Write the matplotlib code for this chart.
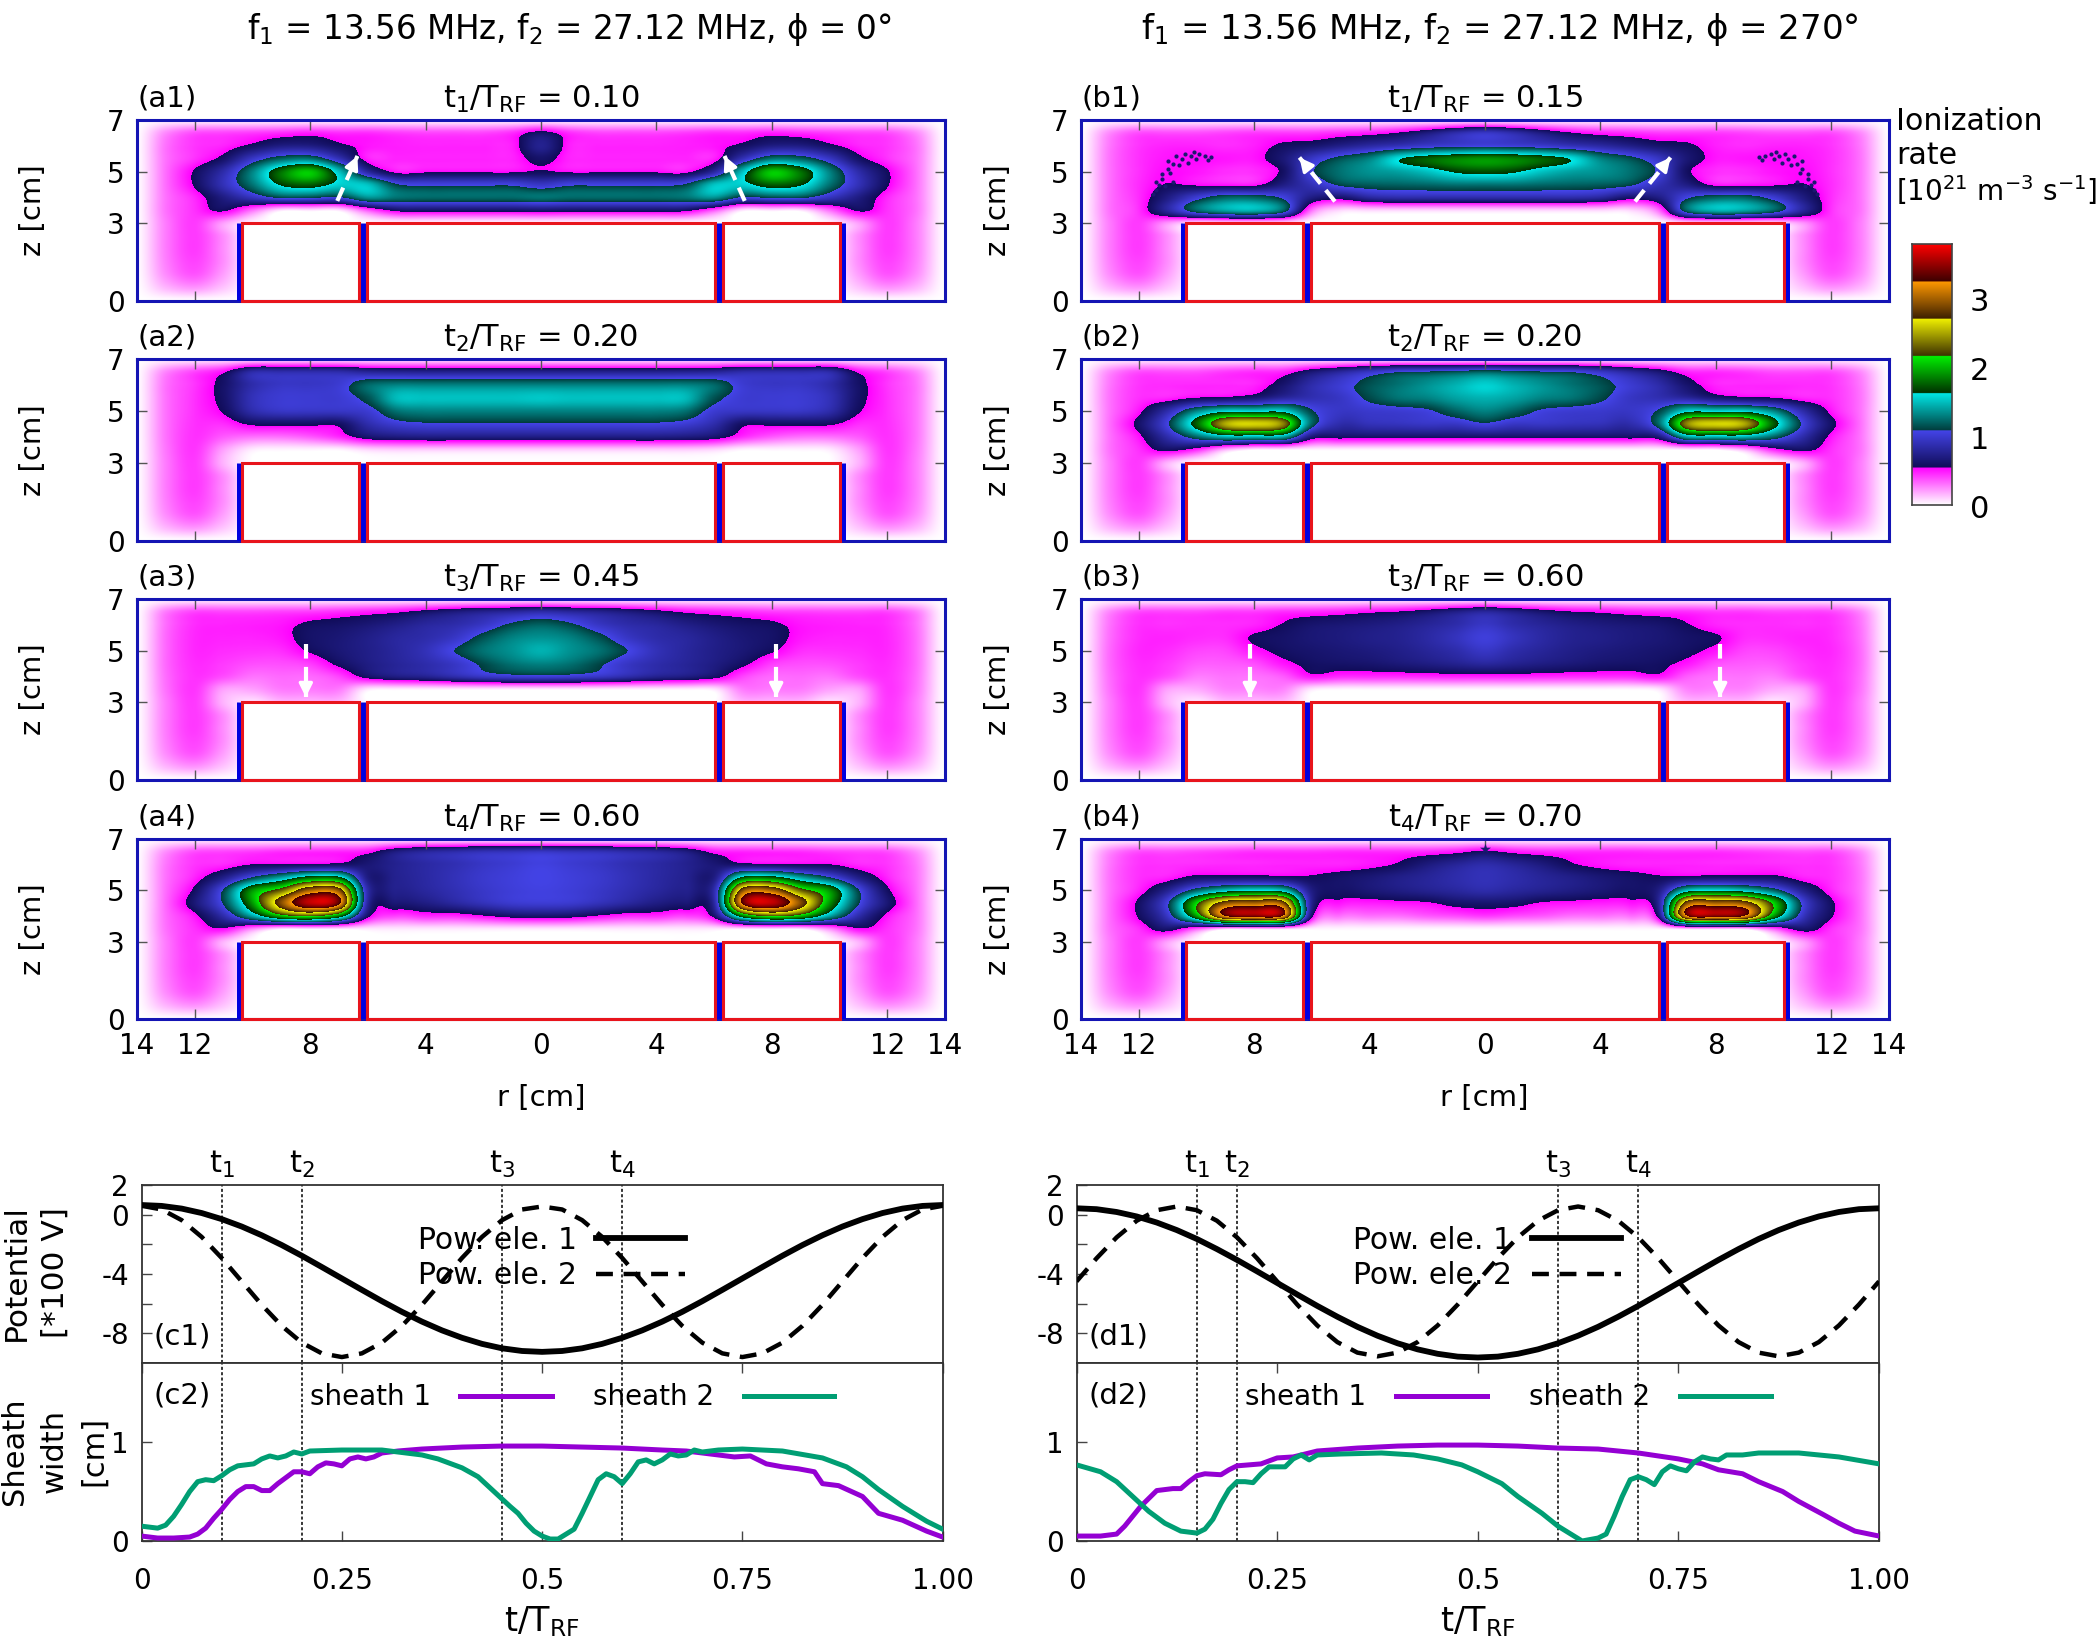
import numpy as np
import matplotlib
matplotlib.use('Agg')
import matplotlib.pyplot as plt
from matplotlib.colors import LinearSegmentedColormap
from matplotlib.patches import Rectangle

W, H = 2100, 1637
plt.rcParams['font.family'] = ['DejaVu Sans']
plt.rcParams['mathtext.default'] = 'regular'

# ionization rate on half of the reactor, r = 0..14 cm, z = 7..3 cm in 0.5 cm rows
a1_rate = [
    [.02, .02, .02, .02, .02, .02, .02, .02, .02, .02, .02, .02, .02, .02, .0],
    [.60, .45, .40, .40, .40, .42, .45, .45, .48, .45, .42, .40, .38, .25, .0],
    [.75, .48, .47, .47, .47, .48, .50, .58, .70, .70, .58, .47, .43, .30, .0],
    [.60, .47, .47, .47, .47, .47, .48, .90, 1.25, 1.20, .95, .60, .44, .30, .0],
    [.56, .52, .52, .52, .52, .50, .80, 1.50, 2.05, 1.80, 1.30, .85, .56, .31, .0],
    [.95, 1.05, 1.05, 1.05, 1.05, 1.10, 1.50, 1.55, 1.75, 1.65, 1.25, .90, .56, .31, .0],
    [1.25, 1.22, 1.22, 1.22, 1.22, 1.25, 1.35, 1.05, 1.12, 1.12, .92, .70, .46, .30, .0],
    [.62, .60, .60, .60, .60, .58, .35, .05, .05, .05, .30, .56, .44, .30, .0],
    [.0, .0, .0, .0, .0, .0, .0, .0, .0, .0, .02, .20, .42, .28, .0],
]
a2_rate = [
    [.05, .05, .05, .05, .05, .05, .05, .05, .05, .05, .05, .05, .04, .03, .0],
    [.75, .75, .75, .75, .75, .76, .78, .85, .86, .86, .84, .52, .40, .26, .0],
    [1.30, 1.30, 1.30, 1.30, 1.30, 1.30, 1.22, 1.00, .95, .95, .85, .60, .43, .30, .0],
    [1.52, 1.50, 1.50, 1.50, 1.50, 1.48, 1.15, 1.00, 1.00, 1.00, .90, .60, .44, .30, .0],
    [1.30, 1.30, 1.30, 1.30, 1.30, 1.25, 1.00, .95, .95, .95, .85, .56, .44, .30, .0],
    [1.05, 1.05, 1.05, 1.05, 1.05, 1.00, .85, .58, .58, .58, .57, .45, .44, .30, .0],
    [.70, .70, .70, .70, .70, .68, .62, .45, .35, .30, .30, .35, .44, .30, .0],
    [.10, .10, .10, .10, .10, .10, .08, .02, .02, .02, .04, .20, .43, .29, .0],
    [.0, .0, .0, .0, .0, .0, .0, .0, .0, .0, .0, .16, .42, .28, .0],
]
a3_rate = [
    [.03, .03, .03, .03, .03, .03, .03, .03, .03, .03, .03, .03, .03, .02, .0],
    [.85, .80, .75, .68, .60, .52, .48, .45, .42, .41, .40, .40, .40, .28, .0],
    [1.20, 1.12, .95, .85, .80, .72, .65, .60, .57, .50, .48, .47, .45, .31, .0],
    [1.35, 1.30, 1.15, .95, .85, .80, .72, .65, .60, .50, .47, .47, .46, .32, .0],
    [1.45, 1.35, 1.25, 1.08, .90, .80, .72, .65, .56, .45, .44, .45, .46, .32, .0],
    [1.30, 1.25, 1.12, .95, .85, .78, .70, .58, .42, .38, .38, .42, .45, .32, .0],
    [1.02, 1.00, .95, .85, .75, .70, .60, .40, .32, .32, .30, .38, .44, .31, .0],
    [.03, .03, .03, .03, .03, .03, .05, .28, .28, .28, .20, .20, .43, .30, .0],
    [.0, .0, .0, .0, .0, .0, .0, .15, .15, .15, .06, .16, .42, .28, .0],
]
a4_rate = [
    [.03, .03, .03, .03, .03, .03, .03, .03, .03, .03, .03, .03, .03, .02, .0],
    [.95, .92, .90, .85, .80, .70, .50, .47, .46, .45, .42, .40, .38, .24, .0],
    [1.05, 1.00, .95, .88, .82, .75, .65, .60, .58, .56, .55, .46, .43, .29, .0],
    [1.07, 1.03, .98, .90, .82, .75, .70, 1.70, 1.75, 1.40, 1.10, .72, .47, .30, .0],
    [1.05, 1.02, .96, .88, .80, .74, .85, 2.90, 3.00, 2.30, 1.90, 1.10, .58, .31, .0],
    [1.00, .98, .90, .80, .70, .65, .80, 3.30, 3.60, 2.90, 1.90, 1.10, .65, .32, .0],
    [.62, .60, .52, .45, .45, .40, .60, 1.80, 2.20, 2.00, 1.40, .85, .50, .31, .0],
    [.05, .05, .05, .05, .05, .05, .05, .05, .05, .05, .25, .52, .44, .30, .0],
    [.0, .0, .0, .0, .0, .0, .0, .0, .0, .0, .0, .16, .42, .28, .0],
]
b1_rate = [
    [.03, .03, .03, .03, .03, .03, .03, .03, .03, .03, .03, .03, .03, .02, .0],
    [.95, .85, .68, .55, .48, .45, .42, .42, .42, .40, .38, .38, .38, .25, .0],
    [1.05, 1.02, .98, .90, .82, .72, .62, .57, .48, .45, .47, .47, .43, .29, .0],
    [1.90, 1.85, 1.75, 1.60, 1.30, 1.15, .95, .65, .50, .50, .52, .50, .44, .30, .0],
    [1.70, 1.65, 1.50, 1.40, 1.35, 1.25, 1.05, .58, .45, .45, .50, .52, .44, .30, .0],
    [1.25, 1.25, 1.22, 1.20, 1.18, 1.12, .90, .70, .50, .50, .52, .55, .45, .30, .0],
    [.85, .85, .85, .85, .80, .62, .70, 1.05, 1.20, 1.20, 1.00, .70, .45, .30, .0],
    [.08, .08, .08, .08, .08, .08, .30, 1.20, 1.45, 1.40, 1.20, .80, .44, .30, .0],
    [.0, .0, .0, .0, .0, .0, .0, .05, .05, .05, .05, .22, .42, .28, .0],
]
b2_rate = [
    [.05, .05, .05, .05, .05, .05, .05, .05, .05, .05, .05, .05, .04, .03, .0],
    [1.20, 1.15, 1.10, 1.07, .95, .80, .65, .47, .45, .42, .38, .38, .38, .25, .0],
    [1.55, 1.45, 1.35, 1.25, 1.15, 1.00, .85, .62, .47, .46, .46, .45, .43, .29, .0],
    [1.45, 1.40, 1.30, 1.25, 1.12, .95, .88, .80, .65, .58, .55, .47, .44, .30, .0],
    [1.30, 1.20, 1.05, 1.00, .98, .95, 1.10, 1.55, 1.55, 1.55, 1.30, .85, .50, .30, .0],
    [1.05, .95, .95, .92, .90, .85, 1.20, 2.40, 2.62, 2.50, 1.75, 1.05, .60, .31, .0],
    [.60, .60, .60, .60, .60, .60, .65, 1.40, 1.45, 1.45, 1.20, .85, .50, .30, .0],
    [.02, .02, .02, .02, .02, .02, .02, .02, .02, .15, .45, .58, .44, .30, .0],
    [.0, .0, .0, .0, .0, .0, .0, .0, .0, .0, .0, .16, .42, .28, .0],
]
b3_rate = [
    [.03, .03, .03, .03, .03, .03, .03, .03, .03, .03, .03, .03, .03, .02, .0],
    [.80, .72, .62, .55, .52, .48, .46, .45, .42, .42, .40, .40, .39, .26, .0],
    [.95, .85, .78, .72, .68, .65, .62, .55, .47, .45, .45, .44, .44, .30, .0],
    [1.03, .92, .82, .75, .72, .68, .65, .60, .56, .45, .45, .47, .45, .31, .0],
    [.95, .85, .78, .72, .68, .65, .62, .58, .50, .40, .40, .45, .46, .32, .0],
    [.80, .75, .70, .66, .62, .60, .58, .50, .38, .35, .35, .42, .45, .32, .0],
    [.47, .47, .46, .45, .45, .45, .50, .35, .30, .30, .28, .38, .44, .31, .0],
    [.02, .02, .02, .02, .02, .02, .05, .26, .26, .26, .18, .20, .43, .30, .0],
    [.0, .0, .0, .0, .0, .0, .0, .14, .14, .14, .05, .16, .42, .28, .0],
]
b4_rate = [
    [.03, .03, .03, .03, .03, .03, .03, .03, .03, .03, .03, .03, .03, .02, .0],
    [.58, .50, .46, .45, .45, .45, .44, .44, .44, .42, .40, .38, .38, .25, .0],
    [.85, .78, .68, .56, .50, .47, .47, .47, .46, .46, .45, .44, .43, .29, .0],
    [.90, .85, .78, .72, .65, .60, .56, .60, .62, .62, .60, .48, .44, .30, .0],
    [.85, .80, .75, .70, .65, .60, .70, 1.50, 1.60, 1.50, 1.20, .75, .47, .30, .0],
    [.62, .60, .52, .50, .48, .50, .75, 2.90, 3.00, 2.90, 2.10, 1.05, .58, .31, .0],
    [.42, .38, .35, .30, .30, .30, .60, 3.20, 3.40, 3.20, 1.90, .95, .56, .31, .0],
    [.02, .02, .02, .02, .02, .02, .03, .10, .10, .10, .35, .62, .44, .30, .0],
    [.0, .0, .0, .0, .0, .0, .0, .0, .0, .0, .0, .20, .42, .28, .0],
]
# same outer channel below the electrodes in every panel, z = 2.5..0 cm
lower_rate = [
    [.0, .0, .0, .0, .0, .0, .0, .0, .0, .0, .0, .24, .42, .28, .0],
    [.0, .0, .0, .0, .0, .0, .0, .0, .0, .0, .0, .24, .42, .28, .0],
    [.0, .0, .0, .0, .0, .0, .0, .0, .0, .0, .0, .24, .40, .27, .0],
    [.0, .0, .0, .0, .0, .0, .0, .0, .0, .0, .0, .20, .36, .24, .0],
    [.0, .0, .0, .0, .0, .0, .0, .0, .0, .0, .0, .12, .22, .15, .0],
    [.0, .0, .0, .0, .0, .0, .0, .0, .0, .0, .0, .0, .0, .0, .0],
]

# isolated low-count specks at the lobe shoulder in (b1), one side
b1_speck_r = [10.2, 10.5, 10.8, 11.0, 11.2, 11.4, 10.4, 10.7, 11.0, 10.1, 9.9, 9.7, 9.6, 10.0, 10.3, 10.6, 10.9, 11.2, 11.3, 11.1, 10.8, 11.4, 11.5, 9.5]
b1_speck_z = [5.6, 5.5, 5.3, 5.1, 4.9, 4.6, 5.7, 5.6, 5.4, 5.75, 5.7, 5.6, 5.45, 5.5, 5.35, 5.25, 4.95, 4.7, 4.5, 4.45, 4.6, 4.3, 4.15, 5.55]

a_labels = ['(a1)', '(a2)', '(a3)', '(a4)']
b_labels = ['(b1)', '(b2)', '(b3)', '(b4)']
a_times = ['0.10', '0.20', '0.45', '0.60']
b_times = ['0.15', '0.20', '0.60', '0.70']

# waveforms
t_wave = [i * 0.025 for i in range(41)]
c_pow1 = [.65, .59, .41, .11, -.30, -.80, -1.39, -2.05, -2.77, -3.53, -4.30, -5.07, -5.83, -6.55, -7.21, -7.80, -8.30, -8.71, -9.01, -9.19, -9.25,
          -9.19, -9.01, -8.71, -8.30, -7.80, -7.21, -6.55, -5.83, -5.07, -4.30, -3.53, -2.77, -2.05, -1.39, -.80, -.30, .11, .41, .59, .65]
c_pow2 = [.60, .35, -.37, -1.50, -2.92, -4.50, -6.08, -7.50, -8.63, -9.35, -9.60, -9.35, -8.63, -7.50, -6.08, -4.50, -2.92, -1.50, -.37, .35, .55,
          .35, -.37, -1.50, -2.92, -4.50, -6.08, -7.50, -8.63, -9.35, -9.60, -9.35, -8.63, -7.50, -6.08, -4.50, -2.92, -1.50, -.37, .35, .60]
d_pow1 = [.43, .37, .18, -.12, -.53, -1.04, -1.64, -2.32, -3.05, -3.82, -4.60, -5.38, -6.15, -6.88, -7.56, -8.16, -8.67, -9.08, -9.38, -9.57, -9.63,
          -9.57, -9.38, -9.08, -8.67, -8.16, -7.56, -6.88, -6.15, -5.38, -4.60, -3.82, -3.05, -2.32, -1.64, -1.04, -.53, -.12, .18, .37, .43]
d_pow2 = [-4.50, -2.94, -1.53, -.41, .30, .55, .30, -.41, -1.53, -2.94, -4.50, -6.06, -7.47, -8.59, -9.30, -9.55, -9.30, -8.59, -7.47, -6.06, -4.50,
          -2.94, -1.53, -.41, .30, .55, .30, -.41, -1.53, -2.94, -4.50, -6.06, -7.47, -8.59, -9.30, -9.55, -9.30, -8.59, -7.47, -6.06, -4.50]

# sheath widths
c_s1_t = [0, .02, .04, .06, .07, .08, .09, .10, .11, .12, .13, .14, .15, .16, .17, .18, .19, .20, .21, .22, .23, .24, .25, .26, .27, .28, .29, .30, .32, .35, .40, .45, .50, .55, .60, .65, .68, .70, .72, .74, .76, .78, .80, .82, .84, .85, .87, .90, .92, .95, .98, 1.0]
c_s1_w = [.05, .03, .03, .04, .07, .13, .23, .32, .42, .50, .55, .55, .51, .51, .58, .64, .70, .70, .68, .75, .79, .78, .76, .83, .85, .83, .85, .89, .91, .93, .95, .96, .96, .95, .94, .92, .91, .89, .87, .85, .86, .78, .75, .73, .70, .58, .56, .45, .28, .21, .10, .04]
c_s2_t = [0, .02, .03, .04, .05, .06, .07, .08, .09, .10, .11, .12, .13, .14, .15, .16, .17, .18, .19, .20, .21, .25, .30, .32, .35, .37, .40, .42, .44, .46, .47, .48, .49, .50, .51, .52, .53, .54, .55, .56, .57, .58, .59, .60, .61, .62, .63, .64, .65, .66, .67, .68, .69, .70, .72, .75, .80, .85, .88, .90, .92, .95, .98, 1.0]
c_s2_w = [.15, .13, .16, .25, .37, .50, .60, .62, .61, .66, .72, .76, .77, .78, .83, .86, .84, .86, .90, .88, .91, .92, .92, .90, .87, .83, .74, .65, .50, .35, .28, .18, .10, .05, .02, .02, .07, .12, .28, .45, .62, .68, .65, .58, .68, .80, .82, .78, .82, .88, .86, .87, .92, .90, .92, .93, .91, .84, .75, .65, .52, .35, .20, .12]
d_s1_t = [0, .03, .05, .06, .07, .08, .09, .10, .12, .13, .14, .15, .16, .18, .19, .20, .23, .25, .27, .30, .35, .40, .45, .50, .55, .60, .65, .70, .75, .78, .80, .83, .85, .88, .90, .93, .95, .97, 1.0]
d_s1_w = [.05, .05, .07, .15, .25, .35, .43, .51, .53, .53, .60, .66, .68, .67, .72, .76, .78, .84, .85, .91, .94, .96, .97, .97, .96, .94, .93, .89, .83, .78, .72, .68, .60, .50, .40, .27, .18, .10, .05]
d_s2_t = [0, .03, .05, .07, .09, .11, .13, .15, .16, .17, .18, .19, .20, .21, .22, .23, .24, .26, .27, .28, .29, .30, .33, .38, .42, .45, .48, .50, .53, .55, .58, .60, .62, .63, .65, .66, .67, .68, .69, .70, .71, .72, .73, .74, .75, .76, .77, .78, .79, .80, .81, .83, .85, .90, .95, 1.0]
d_s2_w = [.77, .70, .60, .45, .30, .18, .10, .08, .12, .22, .38, .52, .60, .60, .59, .68, .75, .75, .83, .87, .82, .87, .88, .89, .87, .83, .77, .70, .58, .45, .28, .15, .05, .0, .03, .07, .25, .45, .62, .65, .62, .57, .70, .76, .73, .71, .80, .85, .83, .82, .87, .87, .89, .89, .85, .78]

c_marks = [.10, .20, .45, .60]
d_marks = [.15, .20, .60, .70]

VMAX = 3.78
seg = [('#ffffff', '#ff00ff'), ('#100c58', '#4444e8'), ('#003c3c', '#00e8e8'), ('#003000', '#00f000'),
       ('#3c3000', '#f0f000'), ('#3c2000', '#ff9800'), ('#3c0000', '#ff0000')]
stops = []
for i, (lo, hi) in enumerate(seg):
    stops.append((i / 7, lo))
    stops.append(((i + 1) / 7, hi))
rate_cmap = LinearSegmentedColormap.from_list('rate', stops, N=2048)


def box(x0, y0, x1, y1):
    return plt.gcf().add_axes([x0 / W, 1 - y1 / H, (x1 - x0) / W, (y1 - y0) / H])


fig = plt.figure(figsize=(W / 100, H / 100), dpi=100)
FS = 20
BLUE = '#1414b4'


def rate_panel(pos, upper, label, idx, time_txt, bottom):
    ax = box(*pos)
    half = np.array(upper + lower_rate)
    full = np.hstack([half[:, :0:-1], half])
    # catrom passes through the grid values, the agg bicubic kernel would flatten the peaks
    ax.imshow(full, extent=[-14.5, 14.5, -0.25, 7.25], origin='upper', aspect='auto', cmap=rate_cmap,
              vmin=0, vmax=VMAX, interpolation='catrom', interpolation_stage='data', zorder=1)
    ax.set_xlim(-14, 14)
    ax.set_ylim(0, 7)
    ax.add_patch(Rectangle((-10.45, -0.1), 20.9, 3.1, fc='white', ec='none', zorder=2))
    # electrodes
    for side in (-1, 1):
        ax.plot([side * 10.47] * 2, [0, 3], color='#0000e0', lw=3.6, zorder=4, solid_capstyle='butt')
        ax.plot([side * 6.17] * 2, [0, 3], color='#0000e0', lw=3.6, zorder=4, solid_capstyle='butt')
        ax.add_patch(Rectangle((min(side * 6.32, side * 10.36), 0), 4.04, 3, fc='none', ec='#e8141c', lw=2.2, zorder=5, clip_on=False))
    ax.add_patch(Rectangle((-6.02, 0), 12.04, 3, fc='none', ec='#e8141c', lw=2.2, zorder=5, clip_on=False))
    for s in ax.spines.values():
        s.set_color(BLUE)
        s.set_linewidth(2.2)
    ax.set_xticks([-14, -12, -8, -4, 0, 4, 8, 12, 14])
    ax.set_yticks([0, 3, 5, 7])
    ax.set_yticklabels(['0', '3', '5', '7'], fontsize=FS)
    ax.tick_params(direction='in', length=7, width=1, color='#555555', top=True, right=True, pad=9)
    if bottom:
        ax.set_xticklabels(['14', '12', '8', '4', '0', '4', '8', '12', '14'], fontsize=FS)
    else:
        ax.set_xticklabels([])
    ax.text(-14, 7.3, label, fontsize=21, ha='left', va='bottom')
    ax.text(0, 7.2, '$t_%d/T_{RF}$ = %s' % (idx, time_txt), fontsize=22, ha='center', va='bottom')
    return ax


def dash_arrow(ax, r0, z0, r1, z1, head):
    ax.plot([r0, r1], [z0, z1], color='white', lw=3, ls=(0, (3.5, 2)), zorder=6)
    if head:
        ax.annotate('', xy=(r1, z1), xytext=(r0 + (r1 - r0) * .8, z0 + (z1 - z0) * .8), zorder=7,
                    arrowprops=dict(arrowstyle='-|>', color='white', lw=2.4, mutation_scale=20, shrinkA=0, shrinkB=0))


a_rows = [a1_rate, a2_rate, a3_rate, a4_rate]
b_rows = [b1_rate, b2_rate, b3_rate, b4_rate]
y_boxes = [(120, 301), (359, 541), (599, 780), (839, 1019)]
a_axes, b_axes = [], []
for i in range(4):
    a_axes.append(rate_panel((137, y_boxes[i][0], 945, y_boxes[i][1]), a_rows[i], a_labels[i], i + 1, a_times[i], i == 3))
    b_axes.append(rate_panel((1081, y_boxes[i][0], 1889, y_boxes[i][1]), b_rows[i], b_labels[i], i + 1, b_times[i], i == 3))
    for xl in (33, 998):
        fig.text(xl / W, 1 - (y_boxes[i][0] + y_boxes[i][1]) / 2 / H, 'z [cm]', fontsize=21, rotation=90, ha='center', va='center')

for side in (-1, 1):
    dash_arrow(a_axes[0], side * 7.06, 3.87, side * 6.36, 5.61, True)
    dash_arrow(b_axes[0], side * 5.2, 3.85, side * 6.43, 5.55, True)
    dash_arrow(a_axes[2], side * 8.15, 5.26, side * 8.15, 3.2, True)
    dash_arrow(b_axes[2], side * 8.15, 5.26, side * 8.15, 3.2, True)
    b_axes[0].scatter(side * np.array(b1_speck_r), b1_speck_z, s=9, color='#1a1870', linewidths=0, zorder=3)
b_axes[3].scatter([0], [6.62], s=70, marker='*', color='#1a1870', linewidths=0, zorder=3)

fig.text(541 / W, 1 - 1098 / H, 'r [cm]', fontsize=21, ha='center', va='center')
fig.text(1484 / W, 1 - 1098 / H, 'r [cm]', fontsize=21, ha='center', va='center')
fig.text(569 / W, 1 - 29 / H, r'$f_1$ = 13.56 MHz, $f_2$ = 27.12 MHz, $\phi$ = 0°', fontsize=23.5, ha='center', va='center')
fig.text(1500 / W, 1 - 29 / H, r'$f_1$ = 13.56 MHz, $f_2$ = 27.12 MHz, $\phi$ = 270°', fontsize=24.6, ha='center', va='center')

# colour scale
cax = box(1912, 244, 1952, 505)
cax.imshow(np.linspace(VMAX, 0, 1024).reshape(-1, 1), extent=[0, 1, 0, VMAX], aspect='auto', cmap=rate_cmap, vmin=0, vmax=VMAX)
cax.set_xticks([])
cax.set_yticks([])
for v in [0, 1, 2, 3]:
    cax.text(1.68, v - 0.07, str(v), fontsize=22, ha='center', va='center')
for s in cax.spines.values():
    s.set_color('#444444')
    s.set_linewidth(1.2)
fig.text(1896 / W, 1 - 122 / H, 'Ionization', fontsize=21.6, ha='left', va='center')
fig.text(1896 / W, 1 - 156 / H, 'rate', fontsize=21.6, ha='left', va='center')
fig.text(1896 / W, 1 - 190 / H, r'[$10^{21}$ m$^{-3}$ s$^{-1}$]', fontsize=FS, ha='left', va='center')


def wave_panels(x0, x1, pow1, pow2, s1t, s1w, s2t, s2w, marks, tag):
    ax1 = box(x0, 1185, x1, 1363)
    ax2 = box(x0, 1363, x1, 1541)
    ax1.plot(t_wave, pow1, color='black', lw=4.2, zorder=3)
    ax1.plot(t_wave, pow2, color='black', lw=3.2, ls=(0, (3.8, 2.4)), zorder=3)
    ax1.set_ylim(-10, 2)
    ax1.set_yticks([2, 0, -2, -4, -6, -8, -10])
    ax1.set_yticklabels(['2', '0', '', '-4', '', '-8', ''], fontsize=FS)
    ax1.set_xticks([])
    ax2.plot(s1t, s1w, color='#9400d3', lw=3.6, zorder=3)
    ax2.plot(s2t, s2w, color='#009e73', lw=3.6, zorder=3)
    ax2.set_ylim(0, 1.8)
    ax2.set_yticks([0, 1])
    ax2.set_yticklabels(['0', '1'], fontsize=FS)
    ax2.set_xticks([0, .25, .5, .75, 1])
    ax2.set_xticklabels(['0', '0.25', '0.5', '0.75', '1.00'], fontsize=FS)
    for ax in (ax1, ax2):
        ax.set_xlim(0, 1)
        ax.tick_params(direction='in', length=7, width=1, color='#444444', pad=9, top=(ax is ax2), right=False)
        for s in ax.spines.values():
            s.set_color('#333333')
            s.set_linewidth(1.3)
        for m in marks:
            ax.axvline(m, color='black', lw=1.1, ls=(0, (2, 1.5)), zorder=2)
    ax2.tick_params(axis='x', pad=19)
    for k, m in enumerate(marks):
        ax1.text(m, 2.35, '$t_%d$' % (k + 1), fontsize=22, ha='center', va='bottom')
    ax1.text(.345, -1.75, 'Pow. ele. 1', fontsize=21.5, ha='left', va='center', zorder=5)
    ax1.text(.345, -4.12, 'Pow. ele. 2', fontsize=21.5, ha='left', va='center', zorder=5)
    ax1.plot([.567, .679], [-1.6, -1.6], color='black', lw=4.2, zorder=3)
    ax1.plot([.567, .679], [-3.97, -3.97], color='black', lw=3.2, ls=(0, (3.8, 2.4)), zorder=3)
    ax1.text(.015, -8.2, '(%s1)' % tag, fontsize=21, ha='left', va='center')
    ax2.text(.015, 1.47, '(%s2)' % tag, fontsize=21, ha='left', va='center')
    ax2.text(.21, 1.46, 'sheath 1', fontsize=FS, ha='left', va='center')
    ax2.text(.564, 1.46, 'sheath 2', fontsize=FS, ha='left', va='center')
    ax2.plot([.398, .512], [1.47, 1.47], color='#9400d3', lw=3.6)
    ax2.plot([.752, .865], [1.47, 1.47], color='#009e73', lw=3.6)
    fig.text((x0 + x1) / 2 / W, 1 - 1622 / H, '$t/T_{RF}$', fontsize=24, ha='center', va='center')


wave_panels(141.6, 942.6, c_pow1, c_pow2, c_s1_t, c_s1_w, c_s2_t, c_s2_w, c_marks, 'c')
wave_panels(1076.5, 1879, d_pow1, d_pow2, d_s1_t, d_s1_w, d_s2_t, d_s2_w, d_marks, 'd')

fig.text(36 / W, 1 - 1273 / H, 'Potential\n[*100 V]', fontsize=22.5, rotation=90, ha='center', va='center', linespacing=1.45)
fig.text(54 / W, 1 - 1451 / H, 'Sheath\nwidth\n[cm]', fontsize=22, rotation=90, ha='center', va='center', linespacing=1.45)

fig.savefig('out.png', dpi=100)
